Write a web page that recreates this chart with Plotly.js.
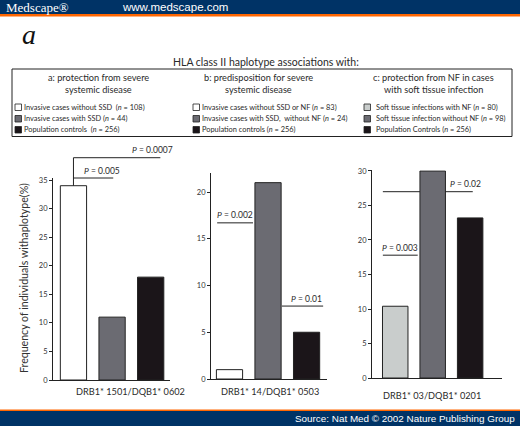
<!DOCTYPE html>
<html><head><meta charset="utf-8">
<script src="https://cdn.plot.ly/plotly-3.0.1.min.js"></script>
<style>html,body{margin:0;padding:0;background:#fff}#chart{width:520px;height:426px}</style>
</head><body><div id="chart"></div>
<script>
// ---- data ----
const categories = ["c1", "c2", "c3"];
const panelLabels = ["DRB1* 1501/DQB1* 0602", "DRB1* 14/DQB1* 0503", "DRB1* 03/DQB1* 0201"];
const panelA = [34, 11, 18];
const panelB = [1, 21, 5];
const panelC = [10.4, 30, 23.2];
const colorsA = ["#ffffff", "#6b6b72", "#1b1519"];
const colorsB = ["#ffffff", "#6b6b72", "#1b1519"];
const colorsC = ["#c9cdcc", "#6b6b72", "#1b1519"];
const headersA = ["a: protection from severe", "systemic disease"];
const headersB = ["b: predisposition for severe", "systemic disease"];
const headersC = ["c: protection from NF in cases", "with soft tissue infection"];
const legendA = ["Invasive cases without SSD  (<i>n</i> = 108)", "Invasive cases with SSD (<i>n</i> = 44)", "Population controls  (<i>n</i> = 256)"];
const legendB = ["Invasive cases without SSD or NF (<i>n</i> = 83)", "Invasive cases with SSD,  without NF (<i>n</i> = 24)", "Population controls (<i>n</i> = 256)"];
const legendC = ["Soft tissue infections with NF (<i>n</i> = 80)", "Soft tissue infection without NF (<i>n</i> = 98)", "Population Controls (<i>n</i> = 256)"];
const yTicksA = [0, 5, 10, 15, 20, 25, 30, 35];
const yTicksB = [0, 5, 10, 15, 20];
const yTicksC = [0, 5, 10, 15, 20, 25, 30];
const pValues = [
  ["P = 0.0007", "P = 0.005"],
  ["P = 0.002", "P = 0.01"],
  ["P = 0.003", "P = 0.02"]
];

// ---- geometry ----
const W = 520, H = 426;
const fx = x => x / W, fy = y => 1 - y / H;
const panels = [
  {vals: panelA, cols: colorsA, ticks: yTicksA, xr: [-0.53, 2.5], xd: [53, 170], yr: [0, 35.35], yd: [380, 178]},
  {vals: panelB, cols: colorsB, ticks: yTicksB, xr: [-0.48, 2.53], xd: [211, 327], yr: [0, 22], yd: [379, 173.3]},
  {vals: panelC, cols: colorsC, ticks: yTicksC, xr: [-0.62, 2.85], xd: [372, 502], yr: [0, 30.1], yd: [378, 170.3]}
];
function mapX(p, v) { const P = panels[p]; return P.xd[0] + (v - P.xr[0]) / (P.xr[1] - P.xr[0]) * (P.xd[1] - P.xd[0]); }
function mapY(p, v) { const P = panels[p]; return P.yd[0] + (v - P.yr[0]) / (P.yr[1] - P.yr[0]) * (P.yd[1] - P.yd[0]); }

const font = "Lato, 'Open Sans', sans-serif";
const ink = "#2a2a2a";
const data = [];
const layout = {
  width: W, height: H, margin: {l: 0, r: 0, t: 0, b: 0},
  paper_bgcolor: "#fff", plot_bgcolor: "rgba(0,0,0,0)",
  showlegend: false, bargap: 0.3,
  font: {family: font, color: ink, size: 7.5},
  shapes: [], annotations: []
};
panels.forEach((P, i) => {
  const sx = i === 0 ? "" : String(i + 1);
  data.push({
    type: "bar", x: [0, 1, 2], y: P.vals, width: 0.68,
    xaxis: "x" + sx, yaxis: "y" + sx,
    marker: {color: P.cols, line: {color: "#222", width: 1}},
    hoverinfo: "skip"
  });
  layout["xaxis" + sx] = {
    domain: [fx(P.xd[0]), fx(P.xd[1])], range: P.xr, anchor: "y" + sx,
    showline: true, linecolor: "#222", linewidth: 1, showgrid: false, zeroline: false,
    showticklabels: false, ticks: "", fixedrange: true
  };
  layout["yaxis" + sx] = {
    domain: [fy(P.yd[0]), fy(P.yd[1])], range: P.yr, anchor: "x" + sx,
    showline: true, linecolor: "#222", linewidth: 1, showgrid: false, zeroline: false,
    tickmode: "array", tickvals: P.ticks, ticktext: P.ticks.map(String),
    ticks: "outside", ticklen: 3, tickcolor: "#222", tickwidth: 1,
    tickfont: {size: 7.5, color: "#333", family: font}, fixedrange: true
  };
});

const S = layout.shapes, A = layout.annotations;
function line(x0, y0, x1, y1, w, layer) { S.push({type: "line", xref: "paper", yref: "paper", x0: fx(x0), y0: fy(y0), x1: fx(x1), y1: fy(y1), line: {color: "#222", width: w || 1}, layer: layer || "above"}); }
function rect(x0, y0, x1, y1, fill, lc, lw, layer) { S.push({type: "rect", xref: "paper", yref: "paper", x0: fx(x0), y0: fy(y0), x1: fx(x1), y1: fy(y1), fillcolor: fill, line: {color: lc || fill, width: lw === undefined ? 0 : lw}, layer: layer || "above"}); }
function text(t, x, y, size, opts) {
  opts = opts || {};
  A.push({text: t, xref: "paper", yref: "paper", x: fx(x), y: fy(y), showarrow: false,
    xanchor: opts.xa || "center", yanchor: opts.ya || "middle",
    font: {size: size, color: opts.color || ink, family: opts.family || font}});
}
function ptext(label, x, y) { text(label.replace("P", "<i>P</i>"), x, y, 8.5, {ya: "bottom"}); }

// header / footer bands
rect(0, 0, 520, 14, "#003366");
rect(0, 14, 520, 16.5, "#ff6600");
rect(0, 409.5, 520, 411, "#ff6600");
rect(0, 411, 520, 426, "#003366");
text("Medscape®", 4, 7.5, 13, {xa: "left", color: "#fff", family: "'Liberation Serif', serif"});
text("www.medscape.com", 120, 7.5, 11.5, {xa: "left", color: "#fff", family: "'Liberation Sans', Arial, sans-serif"});
text("Source: Nat Med © 2002 Nature Publishing Group", 517, 418.5, 9.9, {xa: "right", color: "#fff", family: "'Liberation Sans', Arial, sans-serif"});
text("<i>a</i>", 20, 34, 28, {xa: "left", family: "'Liberation Serif', serif", color: "#111"});

// legend box
text("HLA class II haplotype associations with:", 266, 62, 10.5);
rect(12, 69, 512, 136.5, "rgba(0,0,0,0)", "#222", 1);
const legCols = [
  {h: headersA, items: legendA, cols: colorsA, hx: 98, sx: 15, tx: 22},
  {h: headersB, items: legendB, cols: colorsB, hx: 258, sx: 193, tx: 200},
  {h: headersC, items: legendC, cols: colorsC, hx: 433, sx: 364, tx: 374}
];
const rowY = [107.5, 119, 130];
legCols.forEach(c => {
  text(c.h[0], c.hx, 78, 9.2);
  text(c.h[1], c.hx, 89, 9.2);
  c.items.forEach((t, k) => {
    rect(c.sx, rowY[k] - 3.5, c.sx + 6.5, rowY[k] + 3, c.cols[k], "#222", 0.8);
    text(t, c.tx, rowY[k], 7.4, {xa: "left"});
  });
});

// significance brackets
{
  const xb = mapX(0, 0), ytop = mapY(0, panelA[0]);
  const yHigh = mapY(0, 38.9), xEnd = mapX(0, 2.25);
  line(xb, ytop, xb, yHigh);
  line(xb, yHigh, xEnd, yHigh);
  ptext(pValues[0][0], 152, yHigh - 1);
  const yMid = mapY(0, 35.35), xEnd2 = mapX(0, 1.03);
  line(xb, yMid, xEnd2, yMid);
  ptext(pValues[0][1], 102, yMid - 0.5);
}
{
  const y1 = mapY(1, 16.7);
  line(mapX(1, -0.32), y1, mapX(1, 0.61), y1);
  ptext(pValues[1][0], (mapX(1, -0.32) + mapX(1, 0.61)) / 2, y1 - 0.5);
  const y2 = mapY(1, 7.8);
  line(mapX(1, 1.36), y2, mapX(1, 2.43), y2);
  ptext(pValues[1][1], 306, y2 - 0.5);
}
{
  const y1 = mapY(2, 17.8);
  line(mapX(2, -0.33), y1, mapX(2, 0.6), y1);
  ptext(pValues[2][0], (mapX(2, -0.33) + mapX(2, 0.6)) / 2, y1 - 0.5);
  const y2 = mapY(2, 27);
  line(mapX(2, -0.33), y2, mapX(2, 2.07), y2, 1, "below");
  ptext(pValues[2][1], 465, y2 - 0.5);
}

// axis labels
text(panelLabels[0], 130, 391, 9.2);
text(panelLabels[1], 270, 391, 9.2);
text(panelLabels[2], 432, 395, 9.2);
A.push({text: "Frequency of individuals withaplotype(%)", xref: "paper", yref: "paper", x: fx(24), y: fy(278),
  textangle: -90, showarrow: false, xanchor: "center", yanchor: "middle", font: {size: 10.6, color: "#333", family: font}});

Plotly.newPlot("chart", data, layout, {displayModeBar: false, staticPlot: true});
</script></body></html>
